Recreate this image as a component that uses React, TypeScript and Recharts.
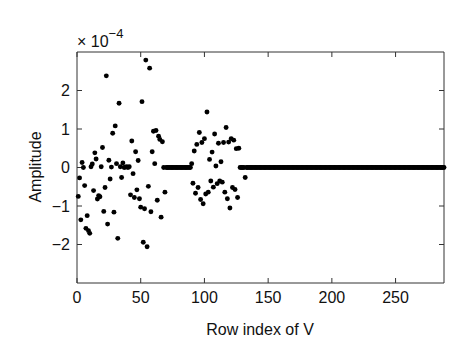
import { ScatterChart, Scatter, XAxis, YAxis } from "recharts";

// amplitudes in units of 1e-4
// rows 1..69
const firstBlock = [
  -0.75, -0.27, -1.36, 0.13, 0.0, -0.47, -1.58, -1.25, -1.64, -1.71,
  0.02, 0.09, -0.6, 0.38, 0.22, -0.82, -0.73, -0.76, 0.02, 0.52,
  -1.14, -0.52, 2.38, -1.47, 0.19, -0.3, 0.01, 0.89, -1.16, 1.08,
  0.1, -1.84, 1.67, 0.02, -0.26, 0.12, 0.0, 0.01, 0.02, 0.0,
  0.02, -0.71, 0.69, -0.16, -0.78, 0.41, -0.58, 0.18, -0.81, -1.03,
  1.71, -1.94, -1.07, 2.79, -2.06, -0.49, 2.58, -1.15, 0.41, 0.94,
  0.1, 0.96, -0.85, 0.81, 0.73, -1.29, 0.67, 0.0, -0.64,
];
const firstStart = 1;

// rows 89..132
const secondBlock = [
  0.0, 0.1, -0.41, 0.43, -0.67, 0.6, -0.52, 0.91, -0.83, 0.65,
  -0.94, 0.75, -0.69, 1.44, -0.64, 0.21, -0.35, 0.4, -0.51, 0.87,
  0.04, -0.42, 0.63, -0.35, 0.15, -0.38, 0.65, -0.64, 1.04, -0.81,
  0.66, -1.05, 0.75, -0.52, 0.71, -0.57, 0.49, -0.78, 0.5, 0.0,
  0.0, 0.0, 0.0, -0.26,
];
const secondStart = 89;

// rows where the amplitude sits at zero
const zeroRows: [number, number][] = [
  [70, 88],
  [133, 288],
];

const xTicks = [0, 50, 100, 150, 200, 250];
const yTicks = [-2, -1, 0, 1, 2];

const points = [
  ...firstBlock.map((amp, i) => ({ row: firstStart + i, amp })),
  ...zeroRows.flatMap(([a, b]) =>
    Array.from({ length: b - a + 1 }, (_, k) => ({ row: a + k, amp: 0 }))
  ),
  ...secondBlock.map((amp, i) => ({ row: secondStart + i, amp })),
];

const font = "'Liberation Sans', Arial, Helvetica, sans-serif";
const ink = "#111";
const frame = "#333";

const fmtY = (v: number) => (v < 0 ? `\u2212${-v}` : `${v}`);

const Dot = (props: any) => <circle cx={props.cx} cy={props.cy} r={2.45} fill="#000" />;
const NoDot = () => <g />;

export default function App() {
  return (
    <div style={{ position: "absolute", left: 0, top: 0, width: 474, height: 343, background: "#fff" }}>
      <ScatterChart
        width={474}
        height={343}
        margin={{ top: 50, right: 28, bottom: 0, left: 0 }}
        style={{ fontFamily: font }}
      >
        <XAxis
          dataKey="row"
          type="number"
          domain={[0, 288]}
          ticks={xTicks}
          height={60}
          tickSize={-5}
          tickMargin={14}
          stroke={frame}
          tick={{ fill: ink, fontSize: 16 }}
          label={{
            content: () => (
              <text x={260} y={335} textAnchor="middle" fontSize={16} fill={ink}>
                Row index of V
              </text>
            ),
          }}
        />
        <XAxis
          xAxisId="top"
          dataKey="row"
          orientation="top"
          type="number"
          domain={[0, 288]}
          allowDataOverflow
          ticks={xTicks}
          height={2}
          tickSize={-5}
          tickFormatter={() => ""}
          stroke={frame}
        />
        <YAxis
          dataKey="amp"
          type="number"
          domain={[-3, 3]}
          ticks={yTicks}
          width={77}
          tickSize={-5}
          tickMargin={12}
          stroke={frame}
          tickFormatter={fmtY}
          tick={{ fill: ink, fontSize: 16 }}
          label={{
            content: () => (
              <g>
                <text
                  x={35}
                  y={167}
                  transform="rotate(-90, 35, 167)"
                  textAnchor="middle"
                  dominantBaseline="central"
                  fontSize={16}
                  fill={ink}
                >
                  Amplitude
                </text>
                <text x={77} y={47} fontSize={16} fill={ink}>
                  {"\u00d7 10"}
                  <tspan dy={-9} fontSize={13}>
                    {"\u22124"}
                  </tspan>
                </text>
              </g>
            ),
          }}
        />
        <YAxis
          yAxisId="right"
          dataKey="amp"
          orientation="right"
          type="number"
          domain={[-3, 3]}
          allowDataOverflow
          ticks={yTicks}
          width={2}
          tickSize={-5}
          tickFormatter={() => ""}
          stroke={frame}
        />
        <Scatter data={points} fill="#000" shape={Dot} isAnimationActive={false} />
        <Scatter
          data={points}
          xAxisId="top"
          yAxisId="right"
          shape={NoDot}
          isAnimationActive={false}
        />
      </ScatterChart>
    </div>
  );
}
